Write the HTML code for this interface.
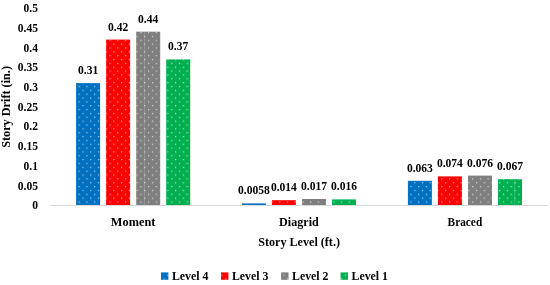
<!DOCTYPE html>
<html><head><meta charset="utf-8"><title>Story Drift</title>
<style>
html,body{margin:0;padding:0;background:#fff;}
svg{display:block;}
text{font-family:"Liberation Serif",serif;font-weight:bold;fill:#000;}
</style></head><body>
<svg width="550" height="285" viewBox="0 0 550 285">
<defs>
<pattern id="dots" width="7.716" height="7.70" patternUnits="userSpaceOnUse" x="1.44" y="1.2">
<rect x="0" y="0" width="1.2" height="1.2" fill="#fff" fill-opacity="0.68"/>
<rect x="3.858" y="3.85" width="1.2" height="1.2" fill="#fff" fill-opacity="0.68"/>
</pattern>
</defs>
<rect width="550" height="285" fill="#fff"/>

<line x1="50" y1="205.5" x2="548" y2="205.5" stroke="#D9D9D9" stroke-width="1"/>
<text x="38.0" y="209.2" font-size="12.3" text-anchor="end" textLength="5.8" lengthAdjust="spacingAndGlyphs">0</text>
<text x="38.0" y="189.5" font-size="12.3" text-anchor="end" textLength="20.2" lengthAdjust="spacingAndGlyphs">0.05</text>
<text x="38.0" y="169.8" font-size="12.3" text-anchor="end" textLength="14.4" lengthAdjust="spacingAndGlyphs">0.1</text>
<text x="38.0" y="150.1" font-size="12.3" text-anchor="end" textLength="20.2" lengthAdjust="spacingAndGlyphs">0.15</text>
<text x="38.0" y="130.4" font-size="12.3" text-anchor="end" textLength="14.4" lengthAdjust="spacingAndGlyphs">0.2</text>
<text x="38.0" y="110.7" font-size="12.3" text-anchor="end" textLength="20.2" lengthAdjust="spacingAndGlyphs">0.25</text>
<text x="38.0" y="91.0" font-size="12.3" text-anchor="end" textLength="14.4" lengthAdjust="spacingAndGlyphs">0.3</text>
<text x="38.0" y="71.3" font-size="12.3" text-anchor="end" textLength="20.2" lengthAdjust="spacingAndGlyphs">0.35</text>
<text x="38.0" y="51.6" font-size="12.3" text-anchor="end" textLength="14.4" lengthAdjust="spacingAndGlyphs">0.4</text>
<text x="38.0" y="31.9" font-size="12.3" text-anchor="end" textLength="20.2" lengthAdjust="spacingAndGlyphs">0.45</text>
<text x="38.0" y="12.2" font-size="12.3" text-anchor="end" textLength="14.4" lengthAdjust="spacingAndGlyphs">0.5</text>
<rect x="76.1" y="83.1" width="24" height="121.9" fill="#0070C0"/>
<rect x="76.1" y="83.1" width="24" height="121.9" fill="url(#dots)"/>
<text x="88.1" y="74.1" font-size="12.3" text-anchor="middle" textLength="20.2" lengthAdjust="spacingAndGlyphs">0.31</text>
<rect x="106.1" y="39.6" width="24" height="165.4" fill="#FF0000"/>
<rect x="106.1" y="39.6" width="24" height="165.4" fill="url(#dots)"/>
<text x="118.1" y="30.6" font-size="12.3" text-anchor="middle" textLength="20.2" lengthAdjust="spacingAndGlyphs">0.42</text>
<rect x="136.2" y="31.7" width="24" height="173.3" fill="#7F7F7F"/>
<rect x="136.2" y="31.7" width="24" height="173.3" fill="url(#dots)"/>
<text x="148.2" y="22.7" font-size="12.3" text-anchor="middle" textLength="20.2" lengthAdjust="spacingAndGlyphs">0.44</text>
<rect x="166.2" y="59.4" width="24" height="145.6" fill="#00B050"/>
<rect x="166.2" y="59.4" width="24" height="145.6" fill="url(#dots)"/>
<text x="178.2" y="50.4" font-size="12.3" text-anchor="middle" textLength="20.2" lengthAdjust="spacingAndGlyphs">0.37</text>
<text x="133.1" y="226.1" font-size="12.3" text-anchor="middle" textLength="44.6" lengthAdjust="spacingAndGlyphs">Moment</text>
<rect x="241.9" y="203.4" width="24" height="1.6" fill="#0070C0"/>
<rect x="241.9" y="203.4" width="24" height="1.6" fill="url(#dots)"/>
<text x="253.9" y="194.4" font-size="12.3" text-anchor="middle" textLength="31.8" lengthAdjust="spacingAndGlyphs">0.0058</text>
<rect x="271.9" y="200.2" width="24" height="4.8" fill="#FF0000"/>
<rect x="271.9" y="200.2" width="24" height="4.8" fill="url(#dots)"/>
<text x="283.9" y="191.2" font-size="12.3" text-anchor="middle" textLength="26.0" lengthAdjust="spacingAndGlyphs">0.014</text>
<rect x="302.0" y="199.0" width="24" height="6.0" fill="#7F7F7F"/>
<rect x="302.0" y="199.0" width="24" height="6.0" fill="url(#dots)"/>
<text x="314.0" y="190.0" font-size="12.3" text-anchor="middle" textLength="26.0" lengthAdjust="spacingAndGlyphs">0.017</text>
<rect x="332.0" y="199.4" width="24" height="5.6" fill="#00B050"/>
<rect x="332.0" y="199.4" width="24" height="5.6" fill="url(#dots)"/>
<text x="344.0" y="190.4" font-size="12.3" text-anchor="middle" textLength="26.0" lengthAdjust="spacingAndGlyphs">0.016</text>
<text x="298.9" y="226.1" font-size="12.3" text-anchor="middle" textLength="39.7" lengthAdjust="spacingAndGlyphs">Diagrid</text>
<rect x="407.9" y="180.8" width="24" height="24.2" fill="#0070C0"/>
<rect x="407.9" y="180.8" width="24" height="24.2" fill="url(#dots)"/>
<text x="419.9" y="171.8" font-size="12.3" text-anchor="middle" textLength="26.0" lengthAdjust="spacingAndGlyphs">0.063</text>
<rect x="437.9" y="176.4" width="24" height="28.6" fill="#FF0000"/>
<rect x="437.9" y="176.4" width="24" height="28.6" fill="url(#dots)"/>
<text x="449.9" y="167.4" font-size="12.3" text-anchor="middle" textLength="26.0" lengthAdjust="spacingAndGlyphs">0.074</text>
<rect x="468.0" y="175.6" width="24" height="29.4" fill="#7F7F7F"/>
<rect x="468.0" y="175.6" width="24" height="29.4" fill="url(#dots)"/>
<text x="480.0" y="166.6" font-size="12.3" text-anchor="middle" textLength="26.0" lengthAdjust="spacingAndGlyphs">0.076</text>
<rect x="498.0" y="179.2" width="24" height="25.8" fill="#00B050"/>
<rect x="498.0" y="179.2" width="24" height="25.8" fill="url(#dots)"/>
<text x="510.0" y="170.2" font-size="12.3" text-anchor="middle" textLength="26.0" lengthAdjust="spacingAndGlyphs">0.067</text>
<text x="464.9" y="226.1" font-size="12.3" text-anchor="middle" textLength="34.6" lengthAdjust="spacingAndGlyphs">Braced</text>
<rect x="143.9" y="31.8" width="0.8" height="173.2" fill="#fff" fill-opacity="0.22"/>
<rect x="514.4" y="179.3" width="0.8" height="25.7" fill="#fff" fill-opacity="0.22"/>
<text x="299.1" y="245.9" font-size="12.3" text-anchor="middle" textLength="81.7" lengthAdjust="spacingAndGlyphs">Story Level (ft.)</text>
<text transform="translate(10.2,106.9) rotate(-90)" font-size="12.3" text-anchor="middle" textLength="81.8" lengthAdjust="spacingAndGlyphs">Story Drift (in.)</text>
<rect x="161.0" y="272.4" width="7.4" height="7.4" fill="#0070C0"/>
<rect x="161.0" y="272.4" width="7.4" height="7.4" fill="url(#dots)"/>
<text x="171.9" y="279.5" font-size="12.3" text-anchor="start" textLength="36.5" lengthAdjust="spacingAndGlyphs">Level 4</text>
<rect x="221.0" y="272.4" width="7.4" height="7.4" fill="#FF0000"/>
<rect x="221.0" y="272.4" width="7.4" height="7.4" fill="url(#dots)"/>
<text x="231.9" y="279.5" font-size="12.3" text-anchor="start" textLength="36.5" lengthAdjust="spacingAndGlyphs">Level 3</text>
<rect x="281.1" y="272.4" width="7.4" height="7.4" fill="#7F7F7F"/>
<rect x="281.1" y="272.4" width="7.4" height="7.4" fill="url(#dots)"/>
<text x="292.0" y="279.5" font-size="12.3" text-anchor="start" textLength="36.5" lengthAdjust="spacingAndGlyphs">Level 2</text>
<rect x="340.6" y="272.4" width="7.4" height="7.4" fill="#00B050"/>
<rect x="340.6" y="272.4" width="7.4" height="7.4" fill="url(#dots)"/>
<text x="351.5" y="279.5" font-size="12.3" text-anchor="start" textLength="36.5" lengthAdjust="spacingAndGlyphs">Level 1</text>
</svg></body></html>
